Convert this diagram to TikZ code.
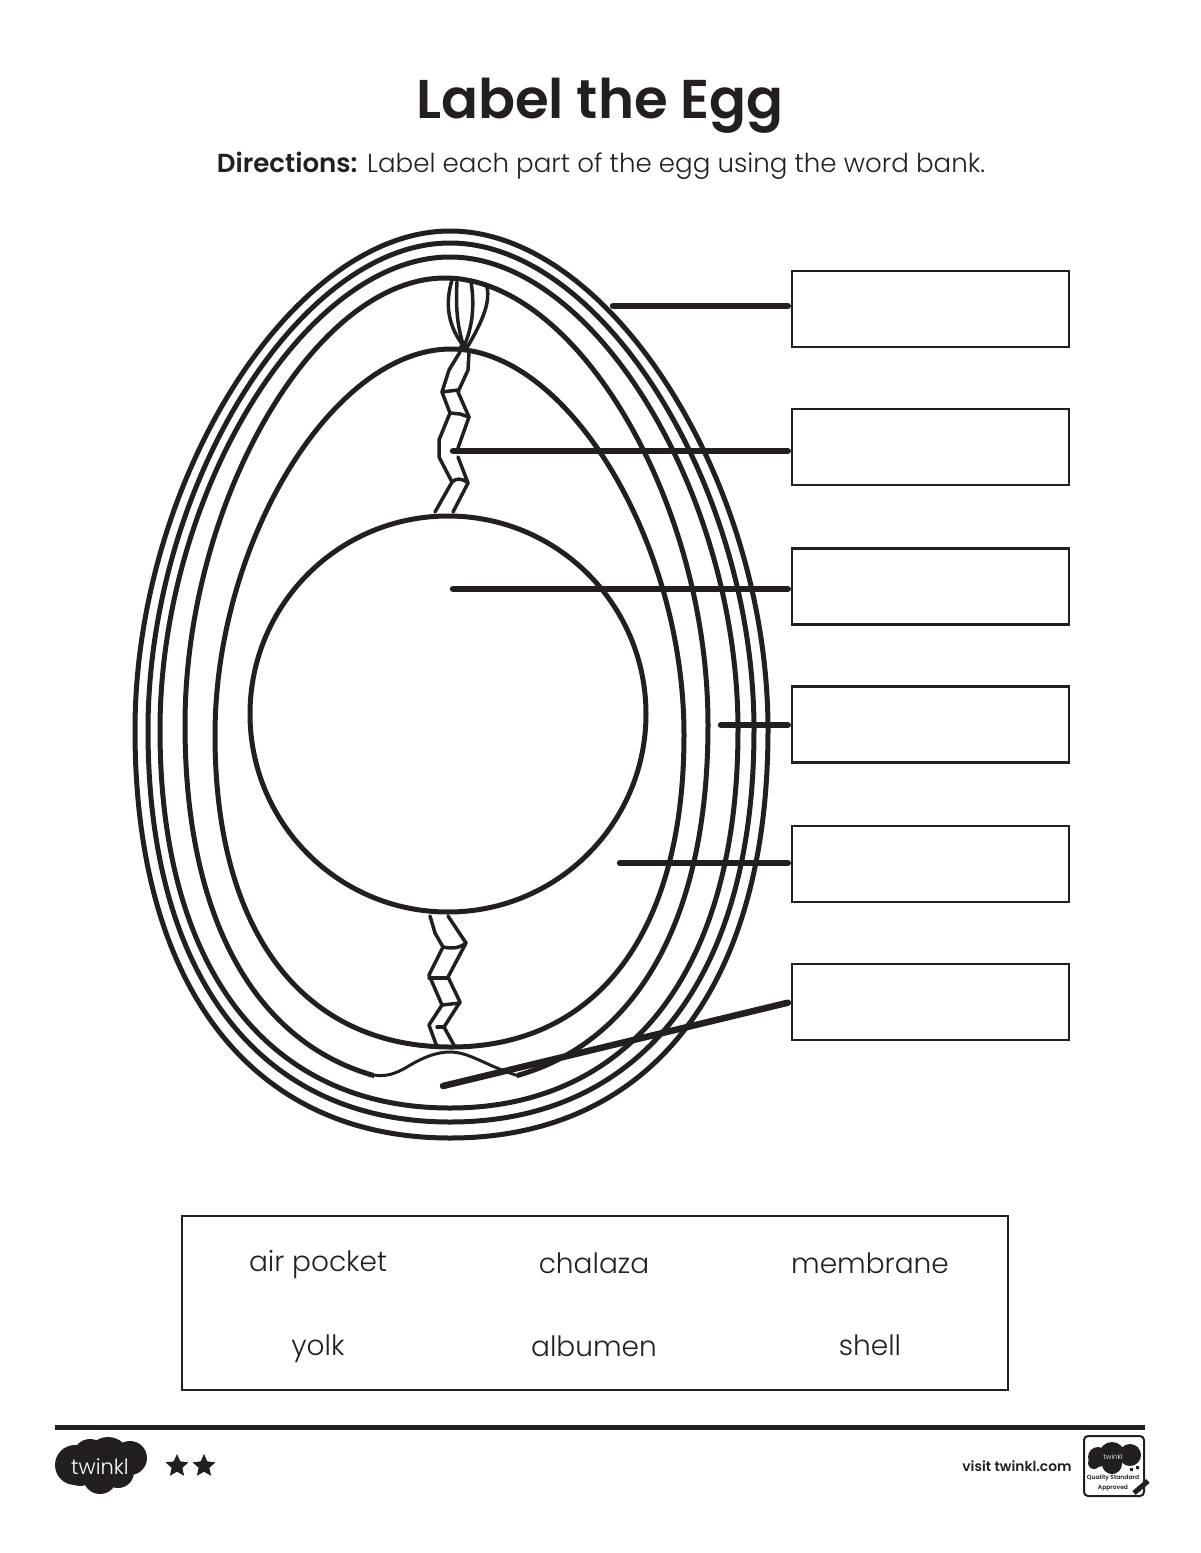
\documentclass[tikz,border=0pt]{standalone}
\usepackage{fontspec}
\setmainfont{Poppins Light}[BoldFont={Poppins SemiBold}]
\usetikzlibrary{shapes.geometric}
\definecolor{inkblack}{HTML}{231F20}
\tikzset{x=1pt, y=-1pt, every path/.style={inkblack},
  eggline/.style={draw=inkblack, line width=5pt},
  chalazaline/.style={draw=inkblack, line width=3.5pt, line join=round, line cap=round},
  labelbox/.style={draw=inkblack, line width=2.5pt, minimum width=277pt, minimum height=76pt, inner sep=0pt},
  leader/.style={draw=inkblack, line width=6.5pt, line cap=round, shorten >=3pt},
  bankword/.style={inkblack, font=\fontsize{28}{28}\selectfont, inner sep=0pt},
  logostar/.style={star, star points=5, star point ratio=2.1, fill=inkblack, draw=none, minimum size=24pt, inner sep=0pt}}
% centre x, left, right, top, bottom, widest y
\newcommand{\eggoval}[6]{\draw[eggline] (#1,#4)
  .. controls ({#1+0.5*(#3-#1)},#4) and (#3,{#6-0.5*(#6-#4)}) .. (#3,#6)
  .. controls (#3,{#6+0.63*(#5-#6)}) and ({#1+0.63*(#3-#1)},#5) .. (#1,#5)
  .. controls ({#1-0.63*(#1-#2)},#5) and (#2,{#6+0.63*(#5-#6)}) .. (#2,#6)
  .. controls (#2,{#6-0.5*(#6-#4)}) and ({#1-0.5*(#1-#2)},#4) .. (#1,#4) -- cycle;}
\begin{document}
\begin{tikzpicture}
  \useasboundingbox (0,0) rectangle (1200,1553);
  \node[inkblack, font=\bfseries\fontsize{54.6}{55}\selectfont, inner sep=0pt] (title) at (600,106) {Label the Egg};
  \node[inkblack, font=\fontsize{26.1}{26}\selectfont, inner sep=0pt] (directions) at (601,166) {\textbf{Directions:} Label each part of the egg using the word bank.};

  % egg, the membrane first so that the patch only takes its bottom
  \eggoval{445}{185}{708}{278}{1085}{725}
  \fill[white] (374,1062) rectangle (517,1096);
  \draw[eggline, line width=3pt] (362,1071) .. controls (378,1079) and (392,1076) .. (407,1067)
    .. controls (425,1056) and (438,1052) .. (450,1052)
    .. controls (470,1052) and (486,1066) .. (519,1076);
  \eggoval{450}{135}{768}{231}{1138}{730}
  \eggoval{450}{148}{754}{243}{1122}{730}
  \eggoval{450}{160}{738}{257}{1108}{730}
  \eggoval{451}{215}{684}{349}{1047}{735}
  \draw[eggline] (448,714) circle (198);

  % chalaza above the yolk
  \draw[chalazaline] (452,280) .. controls (446,300) and (446,322) .. (462,344);
  \draw[chalazaline] (457,282) .. controls (456,300) and (456,322) .. (463,344);
  \draw[chalazaline] (471,282) .. controls (474,300) and (474,322) .. (465,344);
  \draw[chalazaline] (486,284) .. controls (492,300) and (482,322) .. (468,346);
  \fill (464,347) circle (5);
  \draw[chalazaline] (460,352) -- (449,370) -- (442,392) -- (450,413) -- (439,440) -- (439,457) -- (452,482) -- (435,512);
  \draw[chalazaline] (469,352) -- (468,370) -- (458,392) -- (469,417) -- (458,448);
  \draw[chalazaline] (458,457) -- (468,483) -- (453,512);
  \draw[chalazaline] (442,392) -- (458,390);
  \draw[chalazaline] (450,413) -- (460,414) -- (469,417);
  \draw[chalazaline] (452,482) .. controls (456,478) and (462,478) .. (468,483);

  % chalaza below the yolk
  \draw[chalazaline] (430,916) -- (435,933) -- (443,947) -- (429,975) -- (442,1005) -- (429,1025) -- (437,1047);
  \draw[chalazaline] (448,916) -- (466,943) -- (448,977) -- (460,1002) -- (444,1027) -- (455,1047);
  \draw[chalazaline] (443,947) .. controls (452,949) and (460,948) .. (466,943);
  \draw[chalazaline] (429,978) -- (448,978);
  \draw[chalazaline] (442,1005) -- (460,1003);
  \draw[chalazaline] (437,1027) -- (444,1027);

  % boxes for the answers
  \node[labelbox] (shellbox) at (930.5,309) {};
  \node[labelbox] (chalazabox) at (930.5,447) {};
  \node[labelbox] (yolkbox) at (930.5,586.5) {};
  \node[labelbox] (membranebox) at (930.5,724.5) {};
  \node[labelbox] (albumenbox) at (930.5,864) {};
  \node[labelbox] (pocketbox) at (930.5,1002) {};

  \coordinate (shellend) at (613,306);
  \coordinate (chalazaend) at (453,451);
  \coordinate (yolkend) at (453,589);
  \coordinate (membraneend) at (721,725);
  \coordinate (albumenend) at (620,863);
  \coordinate (pocketend) at (443,1086);
  \draw[leader] (shellend) -- (shellend -| shellbox.west);
  \draw[leader] (chalazaend) -- (chalazaend -| chalazabox.west);
  \draw[leader] (yolkend) -- (yolkend -| yolkbox.west);
  \draw[leader] (membraneend) -- (membraneend -| membranebox.west);
  \draw[leader] (albumenend) -- (albumenend -| albumenbox.west);
  \draw[leader] (pocketend) -- (pocketbox.west);

  % word bank
  \node[draw=inkblack, line width=2.5pt, minimum width=826pt, minimum height=174pt, inner sep=0pt] (bank) at (595,1303) {};
  \node[bankword] (wordpocket) at (318,1265) {air pocket};
  \node[bankword] (wordchalaza) at (594,1263) {chalaza};
  \node[bankword] (wordmembrane) at (870,1263) {membrane};
  \node[bankword] (wordyolk) at (318,1349) {yolk};
  \node[bankword] (wordalbumen) at (594,1346) {albumen};
  \node[bankword] (wordshell) at (870,1345) {shell};

  % footer
  \fill (55,1424.5) rectangle (1145,1429.5);
  \fill (75,1465) circle (20) (90,1456) circle (17) (108,1459) circle (22) (130,1458) circle (17) (100,1477) circle (17) (118,1472) circle (16) (80,1472) circle (14);
  \node[white, font=\fontsize{21}{21}\selectfont, inner sep=0pt] (logoword) at (100,1467) {twinkl};
  \node[logostar] (starone) at (177,1466) {};
  \node[logostar] (startwo) at (204,1466) {};
  \node[inkblack, font=\bfseries\fontsize{13.8}{14}\selectfont, inner sep=0pt] (visit) at (1017,1466) {visit twinkl.com};
  \draw[inkblack, line width=2pt, rounded corners=4pt] (1084,1436) rectangle (1144,1496);
  \fill (1098,1457) circle (10) (1112,1455) circle (13) (1130,1455) circle (11) (1112,1464) circle (10) (1094,1463) circle (6);
  \fill (1130,1468) rectangle (1133,1471) (1136,1466) rectangle (1139,1469);
  \node[white, font=\fontsize{7}{7}\selectfont, inner sep=0pt] (badgeword) at (1113,1457) {twinkl};
  \node[inkblack, font=\bfseries\fontsize{6}{6}\selectfont, inner sep=0pt] (badgeline) at (1113,1478) {Quality Standard};
  \node[inkblack, font=\bfseries\fontsize{6}{6}\selectfont, inner sep=0pt] (badgeapproved) at (1113,1488) {Approved};
  \draw[inkblack, line width=5pt] (1148,1481) -- (1134,1493);
\end{tikzpicture}
\end{document}
